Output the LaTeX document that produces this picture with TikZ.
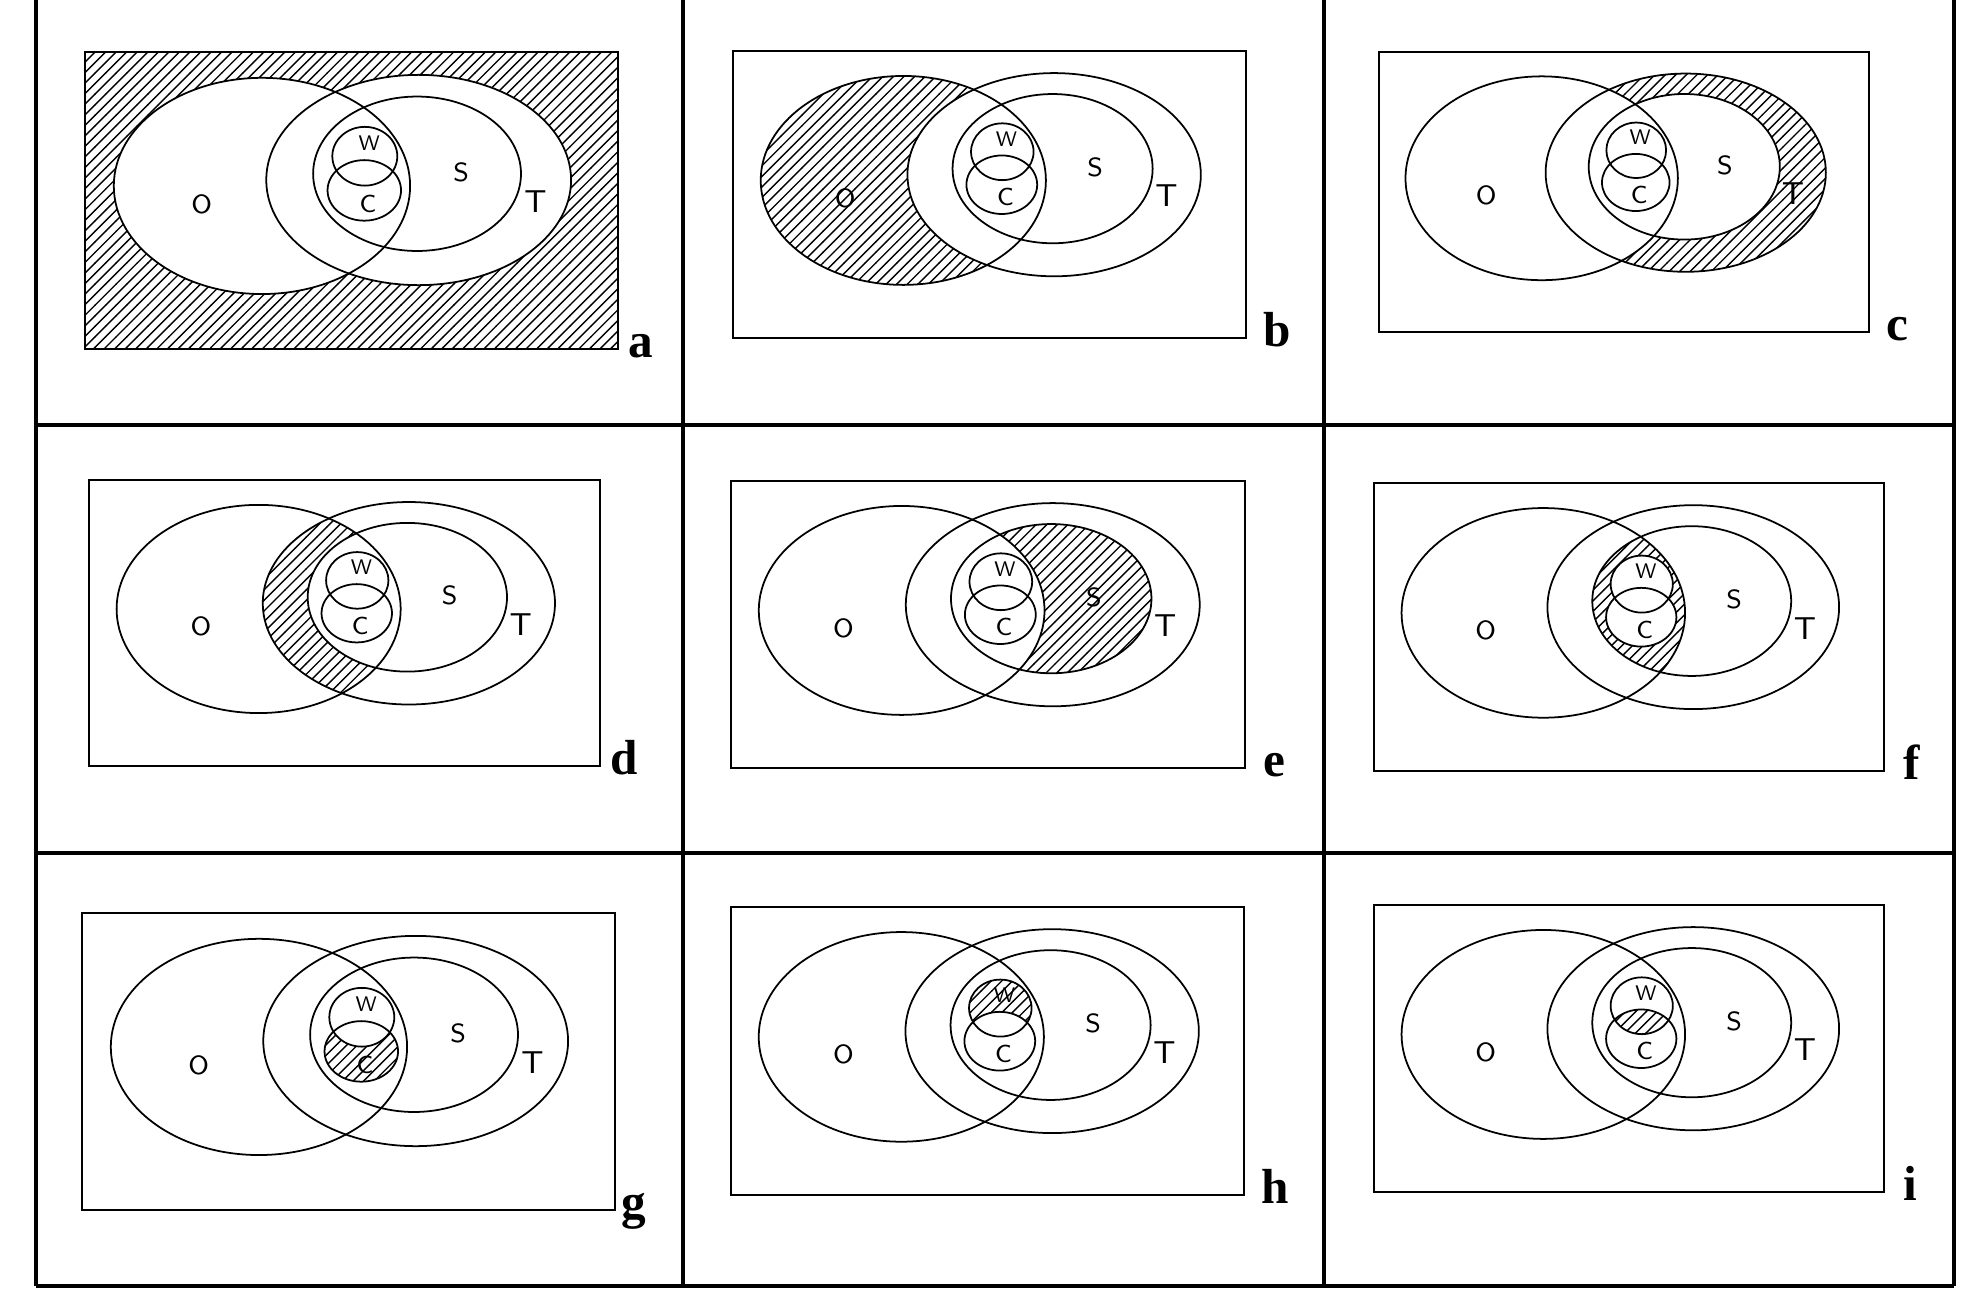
\documentclass[tikz,border=0pt]{standalone}
\usepackage{fontspec}
\newfontfamily\panelfont{Liberation Serif}
\usetikzlibrary{patterns}

% the five sets, in units of the surrounding box
\def\setO{(0.332,0.451) ellipse [x radius=0.278, y radius=0.364]}
\def\setT{(0.626,0.431) ellipse [x radius=0.286, y radius=0.354]}
\def\setS{(0.623,0.410) ellipse [x radius=0.195, y radius=0.260]}
\def\setW{(0.525,0.351) ellipse [x radius=0.061, y radius=0.099]}
\def\setC{(0.524,0.466) ellipse [x radius=0.069, y radius=0.102]}

\tikzset{
	hatch/.style={pattern=north east lines},
	setline/.style={line width=0.5pt},
	boxline/.style={line width=0.75pt},
	gridline/.style={line width=1pt},
	setlab/.style={font=\sffamily\fontsize{7.5}{7.5}\selectfont, inner sep=0pt},
	panellab/.style={font=\panelfont\bfseries\fontsize{14}{14}\selectfont, inner sep=0pt, anchor=base west}
}

% \vennpanel{left}{top}{width}{height}{letter}{label gap}{shading}
\def\vennpanel#1#2#3#4#5#6#7{%
	\begin{scope}[shift={(#1,#2)}, xscale=#3, yscale=#4]
		\begin{scope}
			#7
		\end{scope}
		\draw[boxline] (0,0) rectangle (1,1);
		\draw[setline] \setO;
		\draw[setline] \setT;
		\draw[setline] \setS;
		\draw[setline] \setW;
		\draw[setline] \setC;
		\node[setlab] (O#5) at (0.219,0.512) {O};
		\node[setlab, font=\sffamily\fontsize{6}{6}\selectfont] (W#5) at (0.533,0.306) {W};
		\node[setlab] (S#5) at (0.706,0.405) {S};
		\node[setlab, font=\sffamily\fontsize{7}{7}\selectfont] (C#5) at (0.531,0.510) {C};
		\node[setlab, font=\sffamily\fontsize{9}{9}\selectfont] (T#5) at (0.845,0.505) {T};
	\end{scope}
	\node[panellab] (lab#5) at ({#1+#3+#6},{#2+#4+8}) {#5};
}

\begin{document}
\begin{tikzpicture}[x=0.01cm, y=-0.01cm]
	%%%%% START %%%%%
	\useasboundingbox (0,0) rectangle (1985,1297);
	
	\foreach \gx in {36,683,1324,1954}
		\draw[gridline] (\gx,0) -- (\gx,1286);
	\foreach \gy in {425,853,1286}
		\draw[gridline] (36,\gy) -- (1954,\gy);
	
	% top row
	\vennpanel{85}{52}{533}{297}{a}{10}{\fill[hatch] (0,0) rectangle (1,1); \fill[white] \setO; \fill[white] \setT;}
	\vennpanel{733}{51}{513}{287}{b}{17}{\clip \setO; \fill[hatch] \setO; \fill[white] \setT;}
	\vennpanel{1379}{52}{490}{280}{c}{17}{\clip \setT; \fill[hatch] \setT; \fill[white] \setS; \fill[white] \setO;}
	
	% middle row
	\vennpanel{89}{480}{511}{286}{d}{10}{\clip \setO; \clip \setT; \fill[hatch] \setT; \fill[white] \setS;}
	\vennpanel{731}{481}{514}{287}{e}{18}{\clip \setS; \fill[hatch] \setS; \fill[white] \setO;}
	\vennpanel{1374}{483}{510}{288}{f}{19}{\clip \setO; \clip \setS; \fill[hatch] \setS; \fill[white] \setW; \fill[white] \setC;}
	
	% bottom row
	\vennpanel{82}{913}{533}{297}{g}{6}{\clip \setC; \fill[hatch] \setC; \fill[white] \setW;}
	\vennpanel{731}{907}{513}{288}{h}{17}{\clip \setW; \fill[hatch] \setW; \fill[white] \setC;}
	\vennpanel{1374}{905}{510}{287}{i}{19}{\clip \setW; \clip \setC; \fill[hatch] \setC;}
	%%%%% END %%%%%
\end{tikzpicture}
\end{document}
